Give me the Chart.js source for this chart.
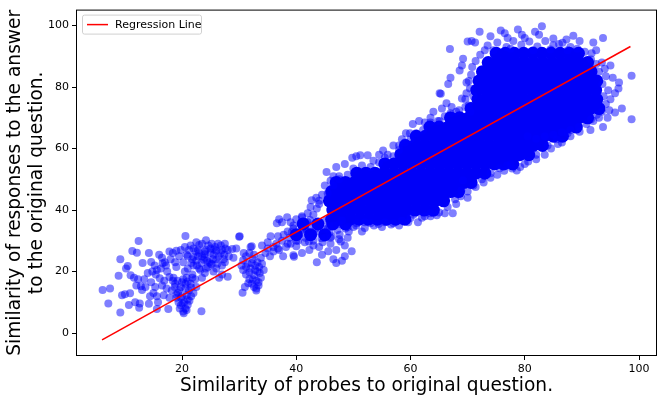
<!DOCTYPE html>
<html>
<head>
<meta charset="utf-8">
<script src="https://cdn.jsdelivr.net/npm/chart.js@4.4.1/dist/chart.umd.min.js"></script>
<style>
  body { margin: 0; background: #fff; }
</style>
</head>
<body>
<canvas id="myChart" width="669" height="401"></canvas>
<script>
// tick labels
const xTicks = [20, 40, 60, 80, 100];
const yTicks = [0, 20, 40, 60, 80, 100];

// regression line end points
const lineX = [6, 98.5];
const lineY = [-2.2, 93.2];

// single points, [x, y]
const lowLeft = [[6.1,14.0],[7.4,14.5],[7.1,9.6],[9.2,6.7],[8.9,18.6],[9.2,24.0],[10.2,21.0],[10.5,21.8],[11.3,26.7],[12.1,26.1],[12.4,29.9],[9.5,12.3],[10,12.6],[10.9,12.9],[10.7,9.1],[11.8,10.0],[12.5,8.2],[12.6,9.6],[11,18.8],[11.6,18],[12.3,17.5],[12.8,15.2],[12,15.5],[13.1,22.8],[14.6,23.1],[13.4,17.5],[14.6,16.5],[13.6,15],[13,14],[15.6,20.5],[15.4,19],[16.1,17.8],[15,13],[15.6,12],[15.8,10],[15.6,7.8],[16.5,24.5],[17,23],[16.6,22.7],[17.4,20],[17.8,18.2],[18.4,17],[17.8,26.5],[18.4,26],[19,26.8],[19.8,27],[16.8,12.3],[17.8,11.5],[17.6,7.8],
  [14.2,26],[14.8,20],[15.2,22],[16,25.5],[16.3,21],[14,19.5],[14.4,12],[14.2,9.5],[16.5,15.5],[17.3,14.5],[16.9,17],[15.3,15]];
const lowMid = [[17.2,22],[18,24],[18.8,23],[19.5,25],[19,21.5],[20.2,23],[20.8,25.5],[21.2,27],[21.8,24],[22.4,26.5],[22,22],[23,28.6],[23.5,25],[24.2,27],[24.2,30.2],[24.8,23],[25.5,25.5],[25.8,28],[26.3,29],[26.8,26],[27.3,24],[27.6,27.5],[28,27],[28.8,27.3],[29.5,27.5],[30,31.3],[26,21],[27,19],[28,18.3],[26.5,18],[25.5,20],[24.5,21.5],[23,21],[21.8,19],[20.8,18],[20,16.5],[21.5,16],[22.3,17.5],[19.5,14],[20,12],[20.4,10],[19.8,9],[20.6,8],[20.3,6.4],[21,11],[19,11.5],[19.3,13],[21.2,13.8],[18.7,15],[23.4,7.1],[22.5,15],[23.5,18],[24,19.5],[22.5,23.5],[23.8,23.8],[21,21],[25,27.5],[24,25.6],[22.8,25],[26,24],[25.2,22.4],[20.5,20],[20.6,31.6],
  [20.5,28],[21.5,28.5],[22,27.5],[22.8,27],[23.5,29],[24.6,28.5],[25.2,29],[26.8,28.5],[27.5,29],[21,25],[22,24.8],[23,26],[24,26.5],[25,26],[26,26.8],[27,27],[21.6,22.8],[22.6,22],[23.4,22.8],[24.4,23.5],[25.4,24],[26.4,25],[27.4,25.5],[23.2,20.5],[24.2,21],[25,22.5],[26.2,22.5],[27,22],[24,24.5],[25.6,27.2],[22.5,29.5],[28.2,25],[29,24.5],[27.5,23],
  [18.5,18],[19.2,17],[20.2,17.5],[21,16.8],[18.8,16],[19.8,15],[20.6,14.5],[21.6,14.8],[19,12.5],[19.8,11.5],[20.8,12.3],[21.6,12],[19.4,10],[20.1,9.6],[21,9.2],[21.3,10.5],[20.8,7.5],[19.6,8],[20.2,7],[22,13],[18.2,13.8],[20.6,16],[21.8,18]];
const lowLobe = [[30.7,23.7],[31.2,25],[31.8,26],[32.4,24],[30.7,20.5],[31.2,19],[31.8,17.5],[32.2,16],[32.6,15],[33,14.5],[33.4,16.5],[33.8,18],[33.2,20],[32.8,22],[32,21],[31.5,22.5],[33.5,21.5],[34.3,20.5],[30.6,13.1],[32.2,28.2],[32,28],[30.1,31.5],
  [31,15],[31.6,16.2],[32.4,17.5],[33,17],[32.6,18.8],[31.8,19.8],[32.8,20.5],[33.6,19.5],[32.2,22.8],[33.2,23],[31.2,21.5],[30.4,22],[34,22.5],[33.8,24.5],[34.6,26],[35,27.5],[30.8,26],[32.6,25.5],[33.4,15.5],[33,13.8]];
const pinch = [[34,28.5],[35,29.5],[36,28],[36.5,29],[35.4,25],[36,26.5],[37,27],[37.7,25],[37.5,30],[36.8,27.5],[38.2,28],[39,29],[39.6,24.8],[40.3,30],[36.6,35.7],[37,37],[37.5,36],[38.4,37.7],[39,36],[40,37],[41,38],[38.5,33],[39.5,34],[40.5,32],[41.5,34],[42.7,43.2],[41,37.6],[42,39],[43,38.5],[37.8,32],[36.8,31.5],[35.5,31.5],[43,30],[44,28],[45,31],[46,29],[47,27],[47.5,30.5],[48.5,28.5],[49,31],[45.5,34],[43.8,33],[42.5,35],
  [38.8,31],[40.2,32.5],[41.6,31],[43,32],[44.4,30.8],[45.8,32.6],[47.2,33.5],[48.6,34],[39.5,35],[41,35.5],[42.4,36.8],[43.8,35],[45.2,36.5],[46.6,35],[48,36.6],[40,30],[42.2,29.8],[44.8,33.8],[39.2,32.8],[41.8,33.2],[43.4,34],[46.2,31.5],[47.8,29.8]];
const bandUpper = [[42.5,41],[43.5,44],[44,42],[45.3,52.4],[45,48],[46.5,51],[47.5,51],[46,49.5],[47,54],[48.5,55],[49.8,57],[50.5,57.5],[51.2,57.8],[52.5,57.8],[53.5,56],[54.5,58],[55.2,59.4],[56,58],[57,61],[58,61],[58.5,63],[59.2,65],[59.9,65],[60.4,68],[61.5,69],[62.5,68.5],[63.5,70],[65.1,69],[65.5,73],[66.3,74.7],[67.2,73.5],[65.3,77.8],[64,72],[66.9,92.4],[65.1,78],[66.6,81],
  [45.5,45.5],[46.5,48],[47.5,50],[49,51.5],[50,53.5],[51.5,54.5],[53,54],[54.5,55.5],[55.5,57],[57,57.5],[58,59.5],[59,62],[60,63],[61,65],[62.2,66],[63.5,68.5],[64.8,69],[66,70.5],[67,71.5],[68.5,72.5],[69.6,73.5],[43.6,40.5],[44,43],[44.5,45],[42,36],[41,33.5]];
const bandLower = [[39.5,25.3],[41,26],[42.3,27],[43.6,23],[44.5,25.5],[45.6,26.6],[46.5,24],[47,22.8],[48,23.5],[48.5,25],[49.7,26.6],[50.6,35.7],[51.5,33],[52,36],[53,35.7],[54.4,35.5],[55.5,36],[57,35.7],[58.5,36.5],[60,37.4],[61.3,36],[62.5,38],[63.5,39],[64.6,38.3],[66,39],[67.4,39],[68.9,46.4],[69.2,49.7],[70,44],[68,42],[71,48],[72.5,50],[74,52],[75.6,53.6],[76.9,54.5],[78.6,52.9],[77.5,55],[80,55],[82,58],[84,61],[85.6,63],[86.5,62],[88,64],[87.5,65],[89.6,65.5],[91.5,66],[93.7,67],[92,69],[94.5,70],[95.8,71.7],[98.7,69.5],[97,73],
  [44,35.5],[45.8,34.8],[47.5,35.5],[49,34.5],[50.5,35],[52,34.2],[53.6,35],[55,34.5],[56.6,35.3],[58,35],[59.6,36],[60.5,38.5],[62,37.5],[63.5,38],[65,39.2],[66.5,41],[67.8,43.5],[68.8,44.5],[70,46],[71.4,47.5],[72.8,49],[74,50.5],[75.2,51.5],[76.4,52.8],[77.8,53.5],[79.2,54],[80.6,55.8],[82,56.5],[83.5,58],[84.6,60],[85.8,61.5],
  [38.5,29],[40,28.2],[41.5,29.5],[43,28.5],[44.6,29.5],[46,31],[47.6,32],[49.2,33],[50,34.5]];
const topEdge = [[96.4,79.5],[95.8,78],[98.7,83.7],[96.5,81.5],[95.4,83],[95,87],[94,86],[93.5,88],[91.7,91],[92.5,92],[93.7,96],[92,94.5],[89.6,95],[88.5,96.7],[87.3,95.5],[86,94],[85,95.8],[83,99.8],[81.8,98],[82.5,97],[80,96],[78.8,98.7],[79.5,97],[77,96],[75.8,98.4],[76.5,97.5],[74,96.5],[72.1,98],[70,94.8],[70.7,95],[71.3,94.5],[69.2,89.2],[68.6,85.4],[69,87],[69,76.3],[69.8,78],[70.2,82],[67,83],[70.5,72],[68,72],
  [73.5,93.5],[75.2,94.5],[76.8,93],[78,95],[79.4,93.8],[80.8,94.8],[82.2,93.2],[83.6,95],[85,93.6],[86.6,94.4],[88,93],[89.2,92.5],[90.5,91.5],[74.5,92],[77.5,92.5],[81.5,92],[84.5,92.2],[87.5,92],
  [93.5,72],[94.2,74.5],[93.8,77],[94.6,79],[93.6,81],[94.2,83.5],[93,85],[92.5,87.5],[91.6,89],[95,76],[94.8,72.5],[93,70],
  [70.2,74],[69.6,76],[70.4,79.5],[69.8,81.5],[70.6,84],[70.8,86.5],[71.4,88.5],[72.2,90.5],[73,92],[71,77],
  [80.5,64],[82,63.2],[83.5,64],[85,64.5],[86.5,65.3],[88,66],[89.5,67],[90.8,68],[91.6,69.5],[92.6,71]];

// solid areas where the points pile up, one row per y value
const coreY = [32, 35.5, 37, 40, 43, 46, 49, 52, 55, 58, 61, 64, 67, 70, 73, 76, 79, 82, 85, 88, 91];
const coreX = [
  [40, 42.5, 45],
  [41.2, 43.8, 46.4, 48.6],
  [46.2, 47.8, 49.4, 51, 52.6, 54.2, 55.8, 57.4, 59],
  [46.4, 48, 49.6, 51.2, 52.8, 54.4, 56, 57.6, 59.2, 60.8, 62.4, 64],
  [45.8, 47.4, 48.2, 49.8, 51.4, 53, 54.6, 56.2, 57.8, 59.4, 61, 62.6, 64.2, 65.8],
  [46.2, 47.8, 49.4, 51, 52.6, 54.2, 55.8, 57.4, 59, 60.6, 62.2, 63.8, 65.4, 67, 68.4],
  [47, 48.6, 50.2, 51.8, 53.4, 55, 56.6, 58.2, 59.8, 61.4, 63, 64.6, 66.2, 67.8, 69.4, 70.6],
  [50.6, 52.2, 53.8, 55.4, 57, 58.6, 60.2, 61.8, 63.4, 65, 66.6, 68.2, 69.8, 71.4, 73],
  [55.5, 57.1, 58.7, 60.3, 61.9, 63.5, 65.1, 66.7, 68.3, 69.9, 71.5, 73.1, 74.7, 76.3, 77.9],
  [58.3, 59.9, 61.5, 63.1, 64.7, 66.3, 67.9, 69.5, 71.1, 72.7, 74.3, 75.9, 77.5, 79.1, 80.7],
  [59.1, 60.7, 62.3, 63.9, 65.5, 67.1, 68.7, 70.3, 71.9, 73.5, 75.1, 76.7, 78.3, 79.9, 81.5, 83.1],
  [61, 62.6, 64.2, 65.8, 67.4, 69, 70.6, 72.2, 73.8, 75.4, 77, 78.6, 80.2, 81.8, 83.4, 85, 86.6],
  [63.4, 65, 66.6, 68.2, 69.8, 71.4, 73, 74.6, 76.2, 77.8, 79.4, 81, 82.6, 84.2, 85.8, 87.4, 89],
  [67, 68.6, 70.2, 71.8, 73.4, 75, 76.6, 78.2, 79.8, 81.4, 83, 84.6, 86.2, 87.8, 89.4, 91],
  [70.6, 72.2, 73.8, 75.4, 77, 78.6, 80.2, 81.8, 83.4, 85, 86.6, 88.2, 89.8, 91.4, 93],
  [71.8, 73.4, 75, 76.6, 78.2, 79.8, 81.4, 83, 84.6, 86.2, 87.8, 89.4, 91, 92.6],
  [71.6, 73.2, 74.8, 76.4, 78, 79.6, 81.2, 82.8, 84.4, 86, 87.6, 89.2, 90.8, 92.4],
  [72, 73.6, 75.2, 76.8, 78.4, 80, 81.6, 83.2, 84.8, 86.4, 88, 89.6, 91.2, 92.6],
  [72.6, 74.2, 75.8, 77.4, 79, 80.6, 82.2, 83.8, 85.4, 87, 88.6, 90.2, 91.6],
  [73.6, 75.2, 76.8, 78.4, 80, 81.6, 83.2, 84.8, 86.4, 88, 89.6, 91],
  [75, 76.6, 78.2, 79.8, 81.4, 83, 84.6, 86.2, 87.8, 89.4]
];

const toXY = p => ({ x: p[0], y: p[1] });
const singles = [].concat(lowLeft, lowMid, lowLobe, pinch, bandUpper, bandLower, topEdge).map(toXY);
const core = [];
coreY.forEach((y, i) => {
  coreX[i].forEach(x => core.push({ x: x, y: y }));
});

const boxPlugin = {
  id: 'boxPlugin',
  afterDraw(chart) {
    const c = chart.ctx;
    const a = chart.chartArea;
    c.save();
    c.strokeStyle = '#000';
    c.lineWidth = 1;
    c.strokeRect(a.left + 0.5, a.top + 0.5, a.right - a.left - 1, a.bottom - a.top - 1);

    // legend
    const ds = chart.data.datasets[0];
    const lx = a.left + 6, ly = a.top + 5, lw = 119, lh = 19;
    c.fillStyle = 'rgba(255,255,255,0.8)';
    c.strokeStyle = '#d0d0d0';
    c.beginPath();
    c.roundRect(lx + 0.5, ly + 0.5, lw, lh, 2);
    c.fill();
    c.stroke();
    c.strokeStyle = ds.borderColor;
    c.lineWidth = 1.5;
    c.beginPath();
    c.moveTo(lx + 5, ly + lh / 2 + 0.5);
    c.lineTo(lx + 26, ly + lh / 2 + 0.5);
    c.stroke();
    c.fillStyle = '#000';
    c.font = '11px "DejaVu Sans"';
    c.textBaseline = 'middle';
    c.fillText(ds.label, lx + 33, ly + lh / 2 + 1);
    c.restore();
  }
};

const tickFont = { family: 'DejaVu Sans', size: 11 };
const titleFont = { family: 'DejaVu Sans', size: 18.6 };

new Chart(document.getElementById('myChart').getContext('2d'), {
  type: 'scatter',
  data: {
    datasets: [
      {
        type: 'line',
        label: 'Regression Line',
        data: lineX.map((x, i) => ({ x: x, y: lineY[i] })),
        borderColor: 'red',
        borderWidth: 1.5,
        pointRadius: 0,
        fill: false,
        order: 0
      },
      {
        label: 'points',
        data: singles,
        backgroundColor: 'rgba(0,0,255,0.5)',
        borderWidth: 0,
        pointRadius: 4,
        order: 1
      },
      {
        label: 'dense',
        data: core,
        backgroundColor: 'rgb(0,0,248)',
        borderWidth: 0,
        pointRadius: 6.5,
        order: 2
      }
    ]
  },
  options: {
    responsive: false,
    animation: false,
    devicePixelRatio: 1,
    layout: { padding: { left: 0, right: 12, top: 9, bottom: 0 } },
    plugins: {
      legend: { display: false },
      tooltip: { enabled: false }
    },
    scales: {
      x: {
        type: 'linear',
        min: 1.44,
        max: 103.15,
        afterBuildTicks: s => { s.ticks = xTicks.map(v => ({ value: v })); },
        afterFit: s => { s.height = 45; },
        border: { display: false },
        grid: { display: true, drawOnChartArea: false, drawTicks: true, tickLength: 4, color: '#000' },
        ticks: { font: tickFont, color: '#000', padding: 3, maxRotation: 0 },
        title: { display: true, text: 'Similarity of probes to original question.', font: titleFont, color: '#000', padding: { top: 2, bottom: 4 } }
      },
      y: {
        type: 'linear',
        min: -7.47,
        max: 105.2,
        afterBuildTicks: s => { s.ticks = yTicks.map(v => ({ value: v })); },
        afterFit: s => { s.width = 76; },
        border: { display: false },
        grid: { display: true, drawOnChartArea: false, drawTicks: true, tickLength: 4, color: '#000' },
        ticks: { font: tickFont, color: '#000', padding: 3 },
        title: { display: true, text: ['Similarity of responses to the answer', 'to the original question.'], font: titleFont, color: '#000', padding: { top: 4, bottom: 2 } }
      }
    }
  },
  plugins: [boxPlugin]
});
</script>
</body>
</html>
